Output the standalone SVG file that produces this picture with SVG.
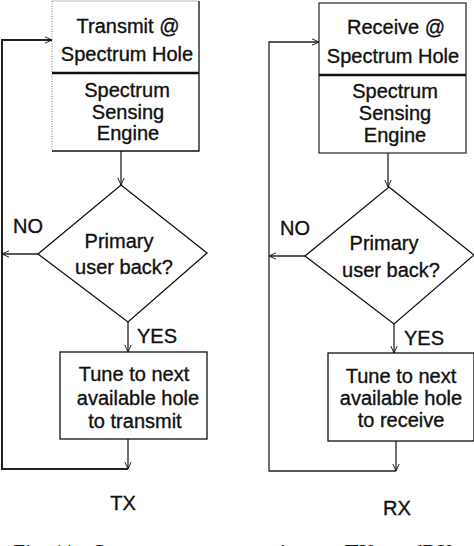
<svg xmlns="http://www.w3.org/2000/svg" width="474" height="546" viewBox="0 0 474 546">
<defs>
<marker id="ah" viewBox="0 0 10 10" refX="10" refY="5" markerWidth="7" markerHeight="8" markerUnits="userSpaceOnUse" orient="auto">
<path d="M0,0.5 L10,5 L0,9.5" fill="none" stroke="#111" stroke-width="1.3"/>
</marker>
</defs>
<style>
.t{font-family:"Liberation Sans",Arial,sans-serif;font-size:20px;fill:#111;stroke:#111;stroke-width:0.35;text-anchor:middle}
.box{fill:#fff;stroke:#111;stroke-width:1.3}
.div{stroke:#111;stroke-width:2.4}
.c{fill:none;stroke:#222;stroke-width:1.3}
.cap{font-family:"Liberation Serif","Times New Roman",serif;font-size:22px;fill:#111}
</style>
<rect width="474" height="546" fill="#fff"/>
<g id="connectors">
<path class="c" d="M121,151 V185" marker-end="url(#ah)"/>
<path class="c" d="M38,254 H2" marker-end="url(#ah)"/>
<path class="c" d="M128,322 V352" marker-end="url(#ah)"/>
<path class="c" d="M128,439 V469" marker-end="url(#ah)"/>
<path class="c" d="M128,469 H2 V40 H52" style="stroke-width:2" marker-end="url(#ah)"/>
<path class="c" d="M388,153 V187" marker-end="url(#ah)"/>
<path class="c" d="M305,256 H269" marker-end="url(#ah)"/>
<path class="c" d="M394,324 V353" marker-end="url(#ah)"/>
<path class="c" d="M396,441 V471" marker-end="url(#ah)"/>
<path class="c" d="M396,471 H269 V42 H319" marker-end="url(#ah)"/>
</g>
<g id="tx-top">
<rect x="52" y="1" width="147" height="150" fill="#fff"/>
<path d="M52,1 H199" stroke="#bbb" stroke-width="1"/>
<path d="M199,1 V151 H52" fill="none" stroke="#111" stroke-width="1.3"/>
<path d="M52,1 V151" stroke="#777" stroke-width="1" stroke-dasharray="1,1.5"/>
<line class="div" x1="52" y1="73" x2="199" y2="73"/>
<text class="t" x="128" y="33">Transmit @</text>
<text class="t" x="127" y="61">Spectrum Hole</text>
<text class="t" x="127" y="97">Spectrum</text>
<text class="t" x="128" y="119">Sensing</text>
<text class="t" x="128" y="140">Engine</text>
</g>
<g id="tx-decision">
<polygon class="box" points="121,185 207,253 128,322 38,254"/>
<text class="t" x="119" y="248">Primary</text>
<text class="t" x="124" y="274">user back?</text>
</g>
<g id="tx-tune">
<rect class="box" x="60" y="352" width="147" height="87"/>
<text class="t" x="134" y="381">Tune to next</text>
<text class="t" x="138" y="405">available hole</text>
<text class="t" x="135" y="428">to transmit</text>
</g>
<g id="tx-labels">
<text class="t" x="28" y="233">NO</text>
<text class="t" x="157" y="343">YES</text>
<text class="t" x="123" y="510">TX</text>
</g>
<g id="rx-top">
<rect class="box" x="319" y="3" width="147" height="150" style="stroke:#333"/>
<line class="div" x1="319" y1="75" x2="466" y2="75"/>
<text class="t" x="396" y="34">Receive @</text>
<text class="t" x="393" y="63">Spectrum Hole</text>
<text class="t" x="395" y="98">Spectrum</text>
<text class="t" x="395" y="120">Sensing</text>
<text class="t" x="395" y="142">Engine</text>
</g>
<g id="rx-decision">
<polygon class="box" points="389,187 474,255 394,324 305,256"/>
<text class="t" x="384" y="250">Primary</text>
<text class="t" x="391" y="277">user back?</text>
</g>
<g id="rx-tune">
<rect class="box" x="328" y="353" width="146" height="88"/>
<text class="t" x="401" y="383">Tune to next</text>
<text class="t" x="401" y="405">available hole</text>
<text class="t" x="401" y="427">to receive</text>
</g>
<g id="rx-labels">
<text class="t" x="295" y="235">NO</text>
<text class="t" x="424" y="345">YES</text>
<text class="t" x="397" y="515">RX</text>
</g>
<text class="cap" y="559"><tspan x="13">Fig. 11.</tspan><tspan x="93">Spectrum</tspan><tspan x="195">reuse</tspan><tspan x="280">in</tspan><tspan x="304">our</tspan><tspan x="345">TX</tspan><tspan x="391">and</tspan><tspan x="422">RX</tspan></text>
</svg>
